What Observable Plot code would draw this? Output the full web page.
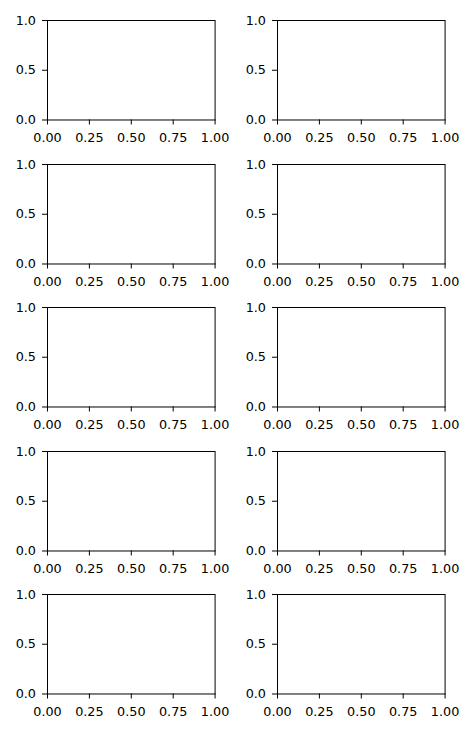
<!DOCTYPE html>
<html><head><meta charset="utf-8">
<script src="https://cdn.jsdelivr.net/npm/d3@7"></script>
<script src="https://cdn.jsdelivr.net/npm/@observablehq/plot@0.6"></script>
<style>
html,body{margin:0;padding:0;background:#fff;}
#fig{position:relative;width:474px;height:732px;overflow:hidden;background:#fff;}
#fig svg{position:absolute;background:none;}
</style></head><body><div id="fig"></div>
<script>
// grid of empty subplots (5 rows x 2 columns)
const rows = [0, 1, 2, 3, 4];
const cols = [0, 1];
const xTicks = [0, 0.25, 0.5, 0.75, 1];
const xTickLabels = ["0.00", "0.25", "0.50", "0.75", "1.00"];
const yTicks = [0, 0.5, 1];
const yTickLabels = ["0.0", "0.5", "1.0"];

// layout
const axLefts = [47, 276.7];
const axTops = [20, 163.5, 307, 450.5, 594];
const axW = 167.6, axH = 99.5;
const mL = 47, mT = 20, mR = 15, mB = 24;

const fig = document.getElementById("fig");
for (const r of rows) {
  for (const c of cols) {
    const chart = Plot.plot({
      width: mL + axW + mR,
      height: mT + axH + mB,
      marginLeft: mL, marginRight: mR, marginTop: mT, marginBottom: mB,
      style: {fontFamily: "DejaVu Sans", fontSize: "12.8px", color: "black", background: "none", overflow: "visible"},
      x: {domain: [xTicks[0], xTicks[xTicks.length - 1]]},
      y: {domain: [yTicks[0], yTicks[yTicks.length - 1]]},
      marks: [
        Plot.frame({stroke: "black", strokeWidth: 1}),
        Plot.axisX(xTicks, {anchor: "bottom", label: null, tickSize: 5, tickPadding: 7.5,
          tickFormat: d => xTickLabels[xTicks.indexOf(d)], fontSize: 12.8}),
        Plot.axisY(yTicks, {anchor: "left", label: null, tickSize: 5, tickPadding: 6.5,
          tickFormat: d => yTickLabels[yTicks.indexOf(d)], fontSize: 12.8})
      ]
    });
    chart.style.left = (axLefts[c] - mL) + "px";
    chart.style.top = (axTops[r] - mT) + "px";
    fig.appendChild(chart);
  }
}
</script></body></html>
